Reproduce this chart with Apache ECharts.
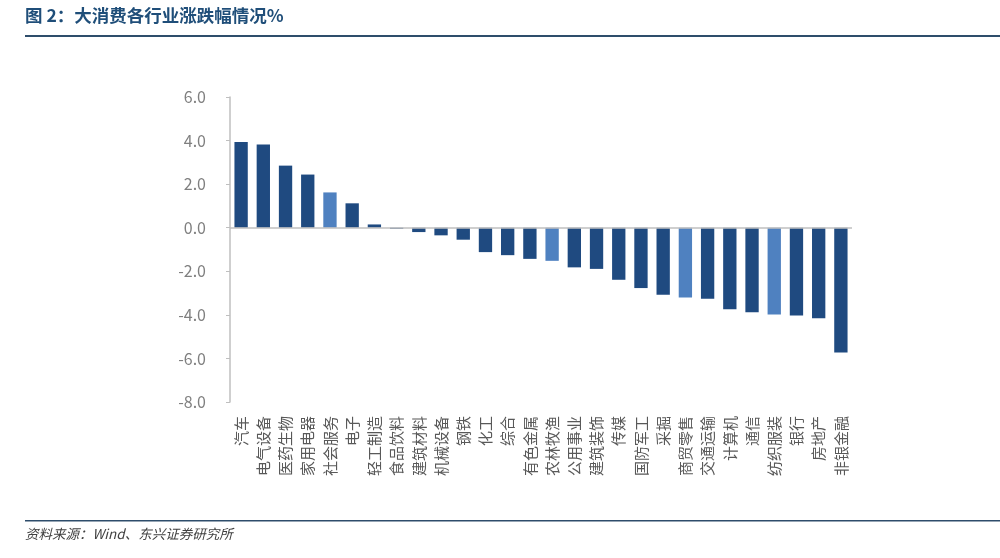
<!DOCTYPE html>
<html>
<head>
<meta charset="utf-8">
<script src="https://cdn.jsdelivr.net/npm/echarts@6/dist/echarts.min.js"></script>
<style>
  html, body { margin: 0; padding: 0; background: #ffffff; }
  #echarts { width: 1000px; height: 558px; }
</style>
</head>
<body>
<div id="echarts"></div>
<script>
const categories = ['汽车', '电气设备', '医药生物', '家用电器', '社会服务', '电子', '轻工制造', '食品饮料',
  '建筑材料', '机械设备', '钢铁', '化工', '综合', '有色金属', '农林牧渔', '公用事业', '建筑装饰', '传媒',
  '国防军工', '采掘', '商贸零售', '交通运输', '计算机', '通信', '纺织服装', '银行', '房地产', '非银金融'];
const changes = [3.94, 3.82, 2.85, 2.44, 1.62, 1.12, 0.15, -0.05,
  -0.2, -0.35, -0.55, -1.12, -1.26, -1.43, -1.52, -1.82, -1.89, -2.39,
  -2.77, -3.08, -3.2, -3.26, -3.74, -3.88, -3.98, -4.03, -4.15, -5.73];
const highlighted = ['社会服务', '农林牧渔', '商贸零售', '纺织服装'];

const darkBlue = '#1f4a80';
const lightBlue = '#4f81c0';

const myChart = echarts.init(document.getElementById('echarts'), null, { renderer: 'canvas' });
myChart.setOption({
  animation: false,
  backgroundColor: '#ffffff',
  grid: {
    top: 97,
    left: 230,
    right: 148,
    bottom: 156,
  },
  graphic: [
    {
      type: 'text',
      left: 25,
      top: 7,
      style: {
        text: '图 2：大消费各行业涨跌幅情况%',
        fill: '#1f4e79',
        font: 'bold 17.5px "Noto Sans CJK SC"',
      },
    },
    {
      type: 'rect',
      shape: { x: 25, y: 35, width: 975, height: 2 },
      style: { fill: '#2e4d6b' },
    },
    {
      type: 'rect',
      shape: { x: 25, y: 520, width: 975, height: 1.5 },
      style: { fill: '#2e4d6b' },
    },
    {
      type: 'text',
      left: 25,
      top: 527,
      style: {
        text: '资料来源：Wind、东兴证券研究所',
        fill: '#404040',
        font: 'italic 13.5px "Noto Sans CJK SC"',
      },
    },
  ],
  xAxis: {
    type: 'category',
    data: categories,
    axisLine: { show: false, onZero: false },
    axisTick: { show: false },
    splitLine: { show: false },
    axisLabel: {
      rotate: 90,
      margin: 14,
      interval: 0,
      color: '#595959',
      fontSize: 15,
      fontFamily: '"Noto Sans CJK SC"',
    },
  },
  yAxis: {
    type: 'value',
    min: -8,
    max: 6,
    interval: 2,
    axisLine: { show: true, lineStyle: { color: '#bfbfbf', width: 1.5 } },
    axisTick: { show: true, length: 4, lineStyle: { color: '#bfbfbf' } },
    splitLine: { show: false },
    axisLabel: {
      margin: 24,
      color: '#7f7f7f',
      fontSize: 16,
      fontFamily: '"Noto Sans CJK SC"',
      formatter: (v) => v.toFixed(1),
    },
  },
  series: [
    {
      type: 'bar',
      barCategoryGap: '40%',
      data: changes.map((v, i) => ({
        value: v,
        itemStyle: { color: highlighted.includes(categories[i]) ? lightBlue : darkBlue },
      })),
      markLine: {
        silent: true,
        symbol: 'none',
        label: { show: false },
        lineStyle: { color: '#bfbfbf', type: 'solid', width: 1.5 },
        data: [{ yAxis: 0 }],
      },
    },
  ],
});
window.addEventListener('resize', myChart.resize);
</script>
</body>
</html>
